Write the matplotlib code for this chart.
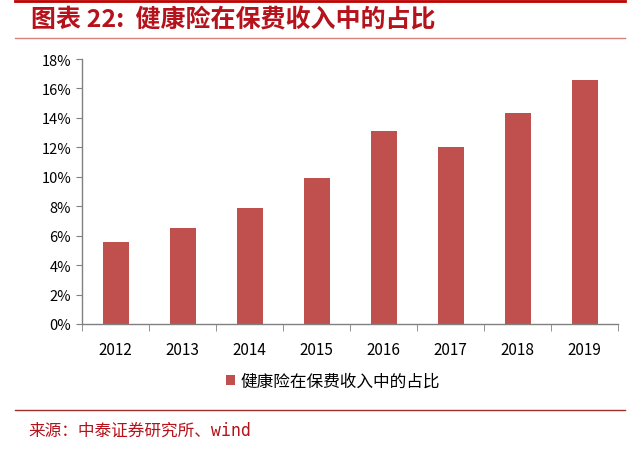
import matplotlib
matplotlib.use("Agg")
import matplotlib.pyplot as plt
from matplotlib.ticker import FuncFormatter, FixedLocator
from matplotlib.lines import Line2D
import numpy as np

plt.rcParams['font.family'] = ['Noto Sans CJK SC', 'DejaVu Sans']

years = ['2012', '2013', '2014', '2015', '2016', '2017', '2018', '2019']
share = [5.6, 6.54, 7.85, 9.93, 13.08, 12.0, 14.35, 16.56]
series_name = '健康险在保费收入中的占比'
title = '图表 22:  健康险在保费收入中的占比'
source = '来源：中泰证券研究所、wind'
yticks = [0, 2, 4, 6, 8, 10, 12, 14, 16, 18]

bar_color = '#C0504D'

fig = plt.figure(figsize=(6.4, 4.52), dpi=100)
W, H = 640, 452
ax = fig.add_axes([82.3 / W, 1 - 325 / H, (618.3 - 82.3) / W, (325 - 60) / H])

x = np.arange(len(years))
ax.bar(x, share, width=0.39, color=bar_color, label=series_name, zorder=2)
ax.set_xlim(-0.5, len(years) - 0.5)
ax.set_ylim(0, 18)
ax.set_yticks(yticks)
ax.yaxis.set_major_formatter(FuncFormatter(lambda v, p: f'{int(v)}%'))
ax.set_xticks(x)
ax.set_xticklabels(years)
ax.xaxis.set_minor_locator(FixedLocator(np.arange(-0.5, len(years), 1.0)))
ax.tick_params(axis='x', which='major', length=0, pad=12, labelsize=11, colors='black')
ax.tick_params(axis='x', which='minor', length=5, color='#808080', direction='out')
ax.tick_params(axis='y', length=4, color='#808080', labelsize=10.5, pad=4)
for s in ['top', 'right']:
    ax.spines[s].set_visible(False)
for s in ['left', 'bottom']:
    ax.spines[s].set_color('#808080')
    ax.spines[s].set_linewidth(1.0)

leg = fig.legend(loc='center', bbox_to_anchor=(333 / W, 1 - 382 / H), frameon=False,
                 fontsize=12, handlelength=0.55, handleheight=0.55, handletextpad=0.35)

# decorative lines
fig.add_artist(Line2D([15 / W, 625 / W], [1 - 1.5 / H, 1 - 1.5 / H], color='#C00000', lw=2))
fig.add_artist(Line2D([15 / W, 625 / W], [1 - 39 / H, 1 - 39 / H], color='#D98080', lw=1))
fig.add_artist(Line2D([15 / W, 625 / W], [1 - 410.5 / H, 1 - 410.5 / H], color='#A0302A', lw=1))

fig.text(31 / W, 1 - 20 / H, title, color='#B5121B', fontsize=18, fontweight='bold',
         fontstyle='italic', va='center', ha='left')
fig.text(28 / W, 1 - 431 / H, source, color='#B5121B', fontsize=12, va='center', ha='left',
         family=['DejaVu Sans Mono', 'Noto Sans CJK SC'])

fig.savefig('out.png', dpi=100)
